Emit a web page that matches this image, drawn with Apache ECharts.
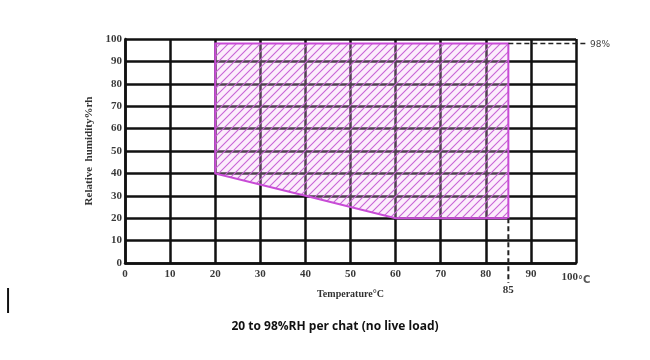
<!DOCTYPE html>
<html>
<head>
<meta charset="utf-8">
<script src="https://cdn.jsdelivr.net/npm/echarts@6/dist/echarts.min.js"></script>
<style>html,body{margin:0;padding:0;background:#fff;}#c{width:650px;height:360px;}</style>
</head>
<body>
<div id="c"></div>
<script>
// ---- data ----
var tempTicks = [0, 10, 20, 30, 40, 50, 60, 70, 80, 90, 100];
var rhTicks = [0, 10, 20, 30, 40, 50, 60, 70, 80, 90, 100];
var regionTemp = [20, 85, 85, 60, 40, 20];
var regionRH = [98, 98, 20, 20, 30, 40];
var maxTemp = 85;
var maxRH = 98;
var minRHAtMaxTemp = 20;
var xTitle = 'Temperature\u00b0C';
var yTitle = 'Relative  humidity%rh';
var caption = '20 to 98%RH per chat (no live load)';

// hatch pattern
var pc = document.createElement('canvas');
pc.width = 8; pc.height = 8;
var g = pc.getContext('2d');
g.fillStyle = 'rgba(245,190,245,0.28)';
g.fillRect(0, 0, 8, 8);
g.strokeStyle = '#c865d6';
g.lineWidth = 1.1;
g.beginPath();
g.moveTo(-1, 9); g.lineTo(9, -1);
g.moveTo(-1, 1); g.lineTo(1, -1);
g.moveTo(7, 9); g.lineTo(9, 7);
g.stroke();

var chart = echarts.init(document.getElementById('c'), null, {renderer: 'canvas'});
var labelFont = {color: '#3a3a3a', fontFamily: 'Liberation Serif', fontWeight: 'bold', fontSize: 11};
chart.setOption({
  animation: false,
  grid: {left: 125, right: 74, top: 39, bottom: 97},
  xAxis: {
    type: 'value', min: tempTicks[0], max: tempTicks[tempTicks.length - 1], interval: 10,
    axisLine: {show: true, lineStyle: {color: '#111', width: 2.5}},
    axisTick: {show: false},
    splitLine: {show: true, lineStyle: {color: '#111', width: 2.5}},
    axisLabel: Object.assign({margin: 6,
      formatter: function (v) { return v === 100 ? '100{u|\u00b0C}' : String(v); },
      rich: {u: {fontSize: 10, fontFamily: 'DejaVu Sans', color: '#555', padding: [6, 0, 0, 0]}}
    }, labelFont),
    name: xTitle, nameLocation: 'middle', nameGap: 20,
    nameTextStyle: {color: '#333', fontFamily: 'Liberation Serif', fontWeight: 'bold', fontSize: 10}
  },
  yAxis: {
    type: 'value', min: rhTicks[0], max: rhTicks[rhTicks.length - 1], interval: 10,
    axisLine: {show: true, lineStyle: {color: '#111', width: 2.5}},
    axisTick: {show: false},
    splitLine: {show: true, lineStyle: {color: '#111', width: 2.5}},
    axisLabel: Object.assign({margin: 3}, labelFont),
    name: yTitle, nameLocation: 'middle', nameGap: 24,
    nameTextStyle: {color: '#333', fontFamily: 'Liberation Serif', fontWeight: 'bold', fontSize: 11}
  },
  title: {
    text: caption, left: 330, textAlign: 'center', top: 316,
    textStyle: {color: '#111', fontFamily: 'Open Sans', fontWeight: 'bold', fontSize: 12}
  },
  graphic: [{type: 'text', left: 4, top: 289, style: {text: '|', fontSize: 24, fill: '#111', fontFamily: 'DejaVu Sans'}}],
  series: [{
    type: 'custom',
    clip: false,
    data: [0],
    renderItem: function (params, api) {
      var pts = regionTemp.map(function (t, i) { return api.coord([t, regionRH[i]]); });
      var pTop = api.coord([maxTemp, maxRH]);
      var pRight = api.coord([tempTicks[tempTicks.length - 1], maxRH]);
      var pBot = api.coord([maxTemp, minRHAtMaxTemp]);
      var pAxis = api.coord([maxTemp, rhTicks[0]]);
      return {
        type: 'group',
        children: [
          {type: 'polygon', shape: {points: pts},
           style: {fill: {image: pc, repeat: 'repeat'}, stroke: '#c84cd6', lineWidth: 2}},
          {type: 'line', shape: {x1: pTop[0], y1: pTop[1], x2: pRight[0] + 11, y2: pRight[1]},
           style: {stroke: '#222', lineWidth: 1.5, lineDash: [5, 3]}},
          {type: 'line', shape: {x1: pBot[0], y1: pBot[1], x2: pAxis[0], y2: pAxis[1] + 20},
           style: {stroke: '#222', lineWidth: 2, lineDash: [5, 3]}},
          {type: 'text', x: pRight[0] + 14, y: pRight[1] + 1,
           style: {text: maxRH + '%', fill: '#444', fontFamily: 'DejaVu Sans', fontSize: 9, verticalAlign: 'middle', align: 'left'}},
          {type: 'text', x: pAxis[0], y: pAxis[1] + 27,
           style: {text: String(maxTemp), fill: '#333', fontFamily: 'Liberation Serif', fontWeight: 'bold', fontSize: 11, verticalAlign: 'middle', align: 'center'}}
        ]
      };
    }
  }]
});
</script>
</body>
</html>
